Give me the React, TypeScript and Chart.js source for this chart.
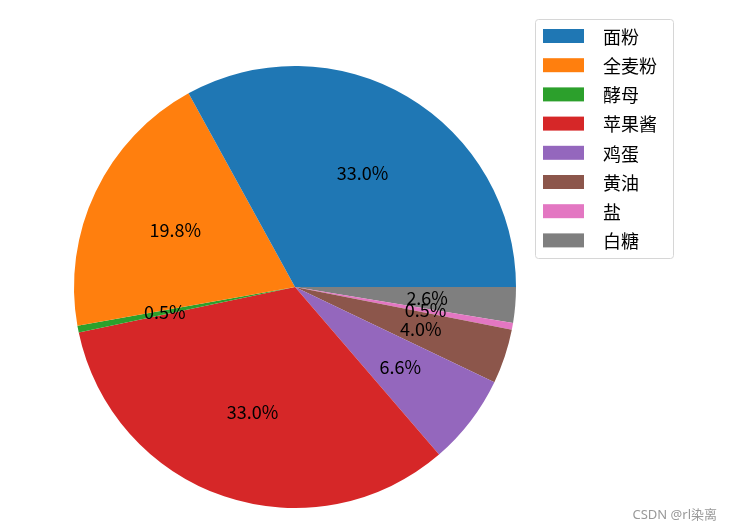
import React, { useEffect, useRef } from "react";
import { Chart, registerables } from "chart.js";

Chart.register(...registerables);

const categories = ["面粉", "全麦粉", "酵母", "苹果酱", "鸡蛋", "黄油", "盐", "白糖"];
const percents = [33.0, 19.8, 0.5, 33.0, 6.6, 4.0, 0.5, 2.6];
const colors = ["#1f77b4", "#ff7f0e", "#2ca02c", "#d62728", "#9467bd", "#8c564b", "#e377c2", "#7f7f7f"];
const watermark = "CSDN @rl染离";

const labelFont = '18px "Noto Sans CJK SC", "DejaVu Sans", sans-serif';

const pieLabels = {
  id: "pieLabels",
  afterDatasetsDraw(chart: any) {
    const ctx = chart.ctx;
    const meta = chart.getDatasetMeta(0);
    const vals = chart.data.datasets[0].data as number[];
    ctx.save();
    ctx.font = labelFont;
    ctx.fillStyle = "#000";
    ctx.textAlign = "center";
    ctx.textBaseline = "middle";
    meta.data.forEach((arc: any, i: number) => {
      const p = arc.getProps(["x", "y", "startAngle", "endAngle", "outerRadius"], true);
      const mid = (p.startAngle + p.endAngle) / 2;
      const r = p.outerRadius * 0.6;
      ctx.fillText(vals[i].toFixed(1) + "%", p.x + Math.cos(mid) * r, p.y + Math.sin(mid) * r);
    });
    ctx.restore();
  },
};

const customLegend = {
  id: "customLegend",
  afterDraw(chart: any) {
    const ctx = chart.ctx;
    ctx.save();
    // box
    const bx = 535.5, by = 19.5, bw = 138, bh = 239, rad = 3;
    ctx.beginPath();
    ctx.moveTo(bx + rad, by);
    ctx.lineTo(bx + bw - rad, by);
    ctx.quadraticCurveTo(bx + bw, by, bx + bw, by + rad);
    ctx.lineTo(bx + bw, by + bh - rad);
    ctx.quadraticCurveTo(bx + bw, by + bh, bx + bw - rad, by + bh);
    ctx.lineTo(bx + rad, by + bh);
    ctx.quadraticCurveTo(bx, by + bh, bx, by + bh - rad);
    ctx.lineTo(bx, by + rad);
    ctx.quadraticCurveTo(bx, by, bx + rad, by);
    ctx.closePath();
    ctx.fillStyle = "rgba(255,255,255,0.8)";
    ctx.fill();
    ctx.strokeStyle = "#d6d6d6";
    ctx.lineWidth = 1;
    ctx.stroke();
    ctx.font = labelFont;
    ctx.textBaseline = "middle";
    ctx.textAlign = "left";
    categories.forEach((c, i) => {
      const cy = 36 + i * 29.2;
      ctx.fillStyle = colors[i];
      ctx.fillRect(543, cy - 7, 41, 14);
      ctx.fillStyle = "#000";
      ctx.fillText(c, 603, cy + 1);
    });
    // watermark
    ctx.font = '13px "Noto Sans", "Noto Sans CJK SC", sans-serif';
    ctx.fillStyle = "#999";
    ctx.textAlign = "right";
    ctx.fillText(watermark, 717, 515);
    ctx.restore();
  },
};

export default function App() {
  const ref = useRef<HTMLCanvasElement>(null);
  useEffect(() => {
    document.body.style.margin = "0";
    const rev = (a: any[]) => a.slice().reverse();
    const chart = new Chart(ref.current!, {
      type: "pie",
      data: {
        labels: rev(categories),
        datasets: [
          {
            data: rev(percents),
            backgroundColor: rev(colors),
            borderWidth: 0,
            hoverOffset: 0,
            offset: 0,
          },
        ],
      },
      options: {
        animation: false,
        responsive: false,
        rotation: 90,
        layout: { padding: { left: 74, right: 216, top: 66, bottom: 23 } },
        plugins: {
          legend: { display: false },
          tooltip: { enabled: false },
        },
      },
      plugins: [pieLabels, customLegend],
    });
    return () => chart.destroy();
  }, []);
  return (
    <div style={{ width: 732, height: 531, background: "#fff" }}>
      <canvas ref={ref} width={732} height={531} style={{ display: "block" }} />
    </div>
  );
}
